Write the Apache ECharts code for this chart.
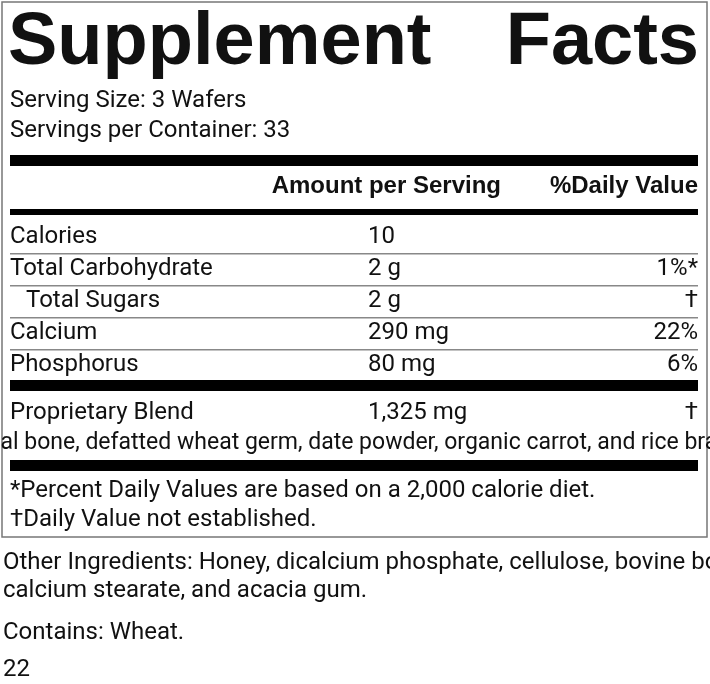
<!DOCTYPE html>
<html><head><meta charset="utf-8">
<script src="https://cdn.jsdelivr.net/npm/echarts@6/dist/echarts.min.js"></script>
<style>html,body{margin:0;background:#fff}#c{width:710px;height:684px}</style>
</head><body><div id="c"></div>
<script>
var servingLines = ['Serving Size: 3 Wafers', 'Servings per Container: 33'];
var headers = ['Amount per Serving', '%Daily Value'];
var names = ['Calories', 'Total Carbohydrate', 'Total Sugars', 'Calcium', 'Phosphorus'];
var amounts = ['10', '2 g', '2 g', '290 mg', '80 mg'];
var dailyValues = ['', '1%*', '\u2020', '22%', '6%'];
var indents = [0, 0, 1, 0, 0];
var blend = ['Proprietary Blend', '1,325 mg', '\u2020'];
var blendText = 'Veal bone, defatted wheat germ, date powder, organic carrot, and rice bran.';
var footnotes = ['*Percent Daily Values are based on a 2,000 calorie diet.', '\u2020Daily Value not established.'];
var below = [
  ['Other Ingredients: Honey, dicalcium phosphate, cellulose, bovine bone,', 563],
  ['calcium stearate, and acacia gum.', 591],
  ['Contains: Wheat.', 633],
  ['22', 670]
];

var FONT = 'Roboto, "Liberation Sans", sans-serif';
var BOLD = '"Liberation Sans", Arial, sans-serif';
var els = [];

function txt(s, x, y, opt) {
  opt = opt || {};
  els.push({
    type: 'text', x: x, y: y,
    style: {
      text: s, fill: '#111',
      font: (opt.weight || 'normal') + ' ' + (opt.size || 24) + 'px ' + (opt.family || FONT),
      textAlign: opt.align || 'left', textVerticalAlign: 'middle'
    }
  });
}
function bar(y, h, color) {
  els.push({ type: 'rect', shape: { x: 10, y: y, width: 688, height: h }, style: { fill: color || '#000' } });
}

// outer box
els.push({ type: 'rect', shape: { x: 2, y: 2, width: 705, height: 535 }, style: { fill: 'none', stroke: '#777', lineWidth: 1.5 } });

txt('Supplement', 8, 44, { size: 74, weight: 'bold', family: BOLD });
txt('Facts', 699, 44, { size: 74, weight: 'bold', family: BOLD, align: 'right' });

servingLines.forEach(function (s, i) { txt(s, 10, 101 + i * 30); });
bar(155, 11);
txt(headers[0], 501, 186, { weight: 'bold', align: 'right', family: BOLD, size: 24 });
txt(headers[1], 698, 186, { weight: 'bold', align: 'right', family: BOLD, size: 24 });
bar(209, 6);

names.forEach(function (n, i) {
  var y = 237 + i * 32;
  txt(n, 10 + indents[i] * 16, y);
  txt(amounts[i], 368, y);
  txt(dailyValues[i], 698, y, { align: 'right' });
  if (i < names.length - 1) bar(y + 16, 1.5, '#888');
});
bar(380, 11);
txt(blend[0], 10, 413);
txt(blend[1], 368, 413);
txt(blend[2], 698, 413, { align: 'right' });
txt(blendText, 355, 443, { align: 'center', size: 23 });
bar(460, 11);
footnotes.forEach(function (s, i) { txt(s, 10, 491 + i * 29); });
below.forEach(function (b) { txt(b[0], 3, b[1]); });

var chart = echarts.init(document.getElementById('c'));
chart.setOption({ animation: false, graphic: { elements: els } });
</script></body></html>
